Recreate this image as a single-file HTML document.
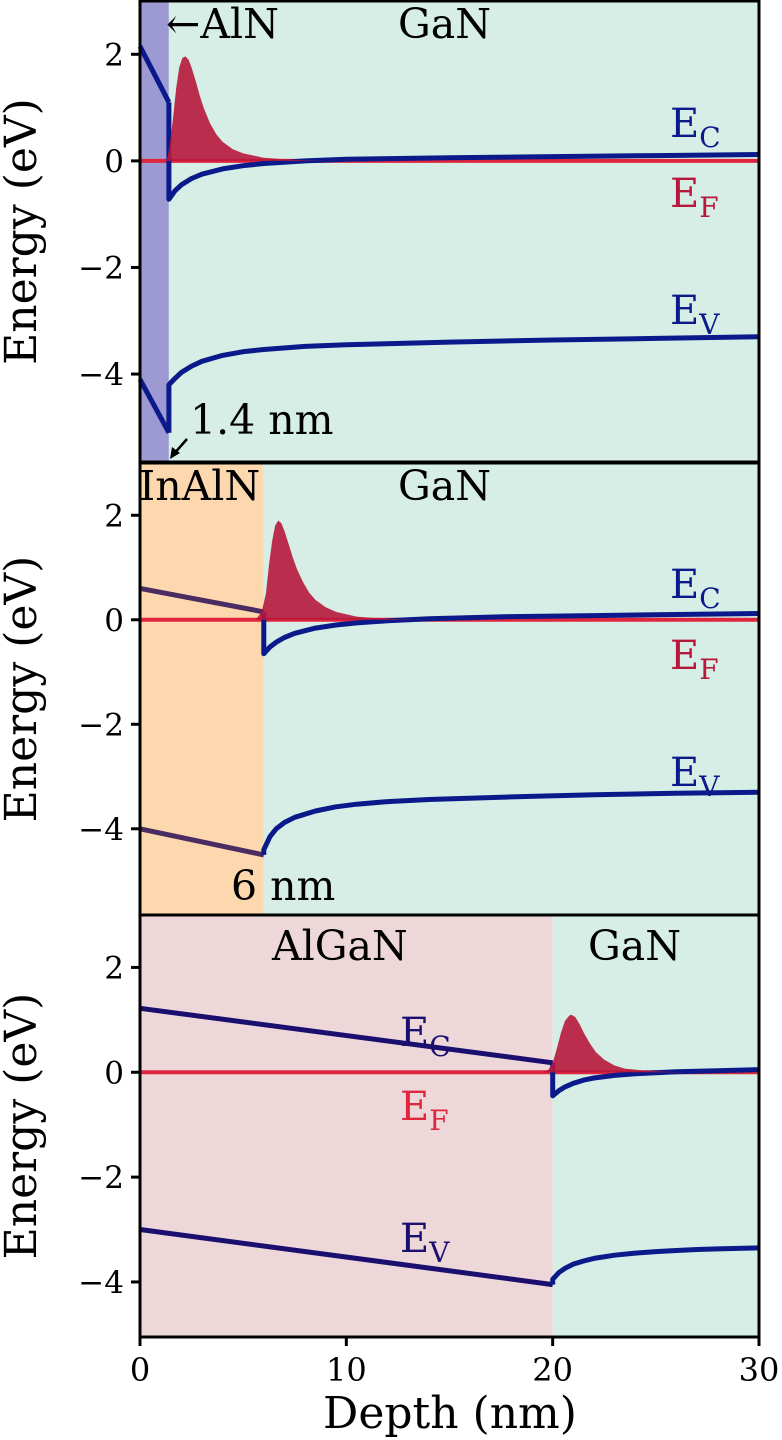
<!DOCTYPE html>
<html><head><meta charset="utf-8"><style>
body{margin:0;background:#fff}
svg{display:block;font-family:"DejaVu Serif","Liberation Serif",serif}
</style></head><body>
<svg id="c" width="782" height="1440" viewBox="0 0 782 1440"></svg>
<script>
// ---- data ----
const xTicks=[0,10,20,30];
const yTicks=[2,0,-2,-4];
const p1Layers=[{name:'AlN',x0:0,x1:1.4,color:'#9d9ad3'},{name:'GaN',x0:1.4,x1:30,color:'#d6eee5'}];
const p1BarrierX=[0,1.4];const p1BarrierEc=[2.15,1.1];const p1BarrierEv=[-4.1,-5.1];
const p1GaNX=[1.4,1.7,2,2.5,3,4,5,6,8,10,15,20,25,30];
const p1GaNEc=[-0.72,-0.56,-0.45,-0.33,-0.25,-0.15,-0.09,-0.05,0,0.03,0.06,0.08,0.1,0.12];
const p1GaNEv=[-4.2,-4.08,-3.97,-3.85,-3.76,-3.65,-3.58,-3.54,-3.48,-3.45,-3.4,-3.36,-3.33,-3.3];
const p1DenX=[1.3,1.45,1.6,1.75,1.9,2.05,2.2,2.35,2.5,2.7,2.9,3.1,3.4,3.7,4,4.5,5,6,7,8,9];
const p1Den=[0,0.3,0.8,1.35,1.75,1.93,1.96,1.9,1.75,1.5,1.22,0.98,0.7,0.5,0.36,0.22,0.14,0.06,0.03,0.01,0];
const p2Layers=[{name:'InAlN',x0:0,x1:6,color:'#fdd8ae'},{name:'GaN',x0:6,x1:30,color:'#d6eee5'}];
const p2BarrierX=[0,6];const p2BarrierEc=[0.6,0.15];const p2BarrierEv=[-4.0,-4.5];
const p2GaNX=[6,6.3,6.6,7,7.5,8.5,9.5,10.5,12,14,18,22,26,30];
const p2GaNEc=[-0.65,-0.52,-0.43,-0.34,-0.26,-0.16,-0.1,-0.06,-0.02,0.02,0.06,0.08,0.1,0.12];
const p2GaNEv=[-4.4,-4.15,-4.0,-3.88,-3.78,-3.66,-3.58,-3.53,-3.48,-3.44,-3.39,-3.35,-3.32,-3.3];
const p2DenX=[5.6,5.9,6.1,6.25,6.4,6.55,6.7,6.85,7.0,7.2,7.4,7.6,7.9,8.2,8.5,9,9.5,10.5,11.5,12.5,13.5];
const p2Den=[0,0.15,0.5,1.05,1.5,1.8,1.9,1.85,1.7,1.45,1.2,0.98,0.72,0.52,0.38,0.24,0.15,0.06,0.03,0.01,0];
const p3Layers=[{name:'AlGaN',x0:0,x1:20,color:'#edd7d9'},{name:'GaN',x0:20,x1:30,color:'#d6eee5'}];
const p3BarrierX=[0,20];const p3BarrierEc=[1.22,0.18];const p3BarrierEv=[-3.0,-4.05];
const p3GaNX=[20,20.3,20.6,21,21.5,22,23,24,25,26,27,28,30];
const p3GaNEc=[-0.45,-0.35,-0.28,-0.21,-0.15,-0.11,-0.06,-0.03,-0.01,0.01,0.02,0.03,0.05];
const p3GaNEv=[-3.95,-3.82,-3.74,-3.66,-3.6,-3.55,-3.49,-3.45,-3.42,-3.4,-3.38,-3.37,-3.35];
const p3DenX=[19.5,19.8,20,20.2,20.4,20.6,20.8,20.9,21.1,21.3,21.5,21.8,22.1,22.5,23,23.5,24.5,25.5,26.5];
const p3Den=[0,0.05,0.18,0.45,0.75,0.98,1.08,1.1,1.05,0.92,0.76,0.55,0.38,0.24,0.13,0.07,0.03,0.01,0];
// ---- layout ----
const NS='http://www.w3.org/2000/svg';
const svg=document.getElementById('c');
const X0=140,X1=759,XMIN=0,XMAX=30,YMIN=-5.65,YMAX=3.0;
const NAVY='#0b1a8a';
const panels=[
 {top:1,bot:462,layers:p1Layers,bx:p1BarrierX,bec:p1BarrierEc,bev:p1BarrierEv,gx:p1GaNX,gec:p1GaNEc,gev:p1GaNEv,dx:p1DenX,dd:p1Den,bcol:NAVY},
 {top:463,bot:915,layers:p2Layers,bx:p2BarrierX,bec:p2BarrierEc,bev:p2BarrierEv,gx:p2GaNX,gec:p2GaNEc,gev:p2GaNEv,dx:p2DenX,dd:p2Den,bcol:'#4a2b62'},
 {top:915,bot:1337,layers:p3Layers,bx:p3BarrierX,bec:p3BarrierEc,bev:p3BarrierEv,gx:p3GaNX,gec:p3GaNEc,gev:p3GaNEv,dx:p3DenX,dd:p3Den,bcol:'#1a0f6e'}
];
panels[2].ymin=-5.05;
function sx(x){return X0+(x-XMIN)/(XMAX-XMIN)*(X1-X0);}
function mk(tag,attrs,parent){const e=document.createElementNS(NS,tag);for(const k in attrs)e.setAttribute(k,attrs[k]);(parent||svg).appendChild(e);return e;}
function txt(s,x,y,size,fill,anchor,parent){const t=mk('text',{x:x,y:y,'font-size':size,fill:fill,'text-anchor':anchor||'start'},parent);t.textContent=s;return t;}
panels.forEach((p,i)=>{
 const ymin=p.ymin||YMIN;
 const sy=v=>p.top+(YMAX-v)/(YMAX-ymin)*(p.bot-p.top);
 const g=mk('g',{});
 
 
 p.layers.forEach(L=>{
  const r=mk('rect',{x:sx(L.x0),y:p.top,width:sx(L.x1)-sx(L.x0),height:p.bot-p.top,fill:L.color},g);
  
  
 });
 const ef=mk('line',{x1:sx(0),x2:sx(30),y1:sy(0),y2:sy(0),stroke:'#e0253f','stroke-width':4},g);
 
 
 const line=(xs,ys,col,name)=>{const d=xs.map((x,k)=>(k?'L':'M')+sx(x).toFixed(1)+','+sy(ys[k]).toFixed(1)).join('');
  const e=mk('path',{d:d,fill:'none',stroke:col,'stroke-width':5,'stroke-linejoin':'round'},g);
  
  };
 const bl=p.bx.length-1;
 line(p.bx,p.bec,p.bcol,'barrier-conduction-band');
 line(p.bx,p.bev,p.bcol,'barrier-valence-band');
 line([p.bx[bl]].concat(p.gx),[p.bec[bl]].concat(p.gec),NAVY,'gan-conduction-band');
 line([p.bx[bl]].concat(p.gx),[p.bev[bl]].concat(p.gev),NAVY,'gan-valence-band');
 let d='M'+sx(p.dx[0]).toFixed(1)+','+sy(0).toFixed(1);
 p.dx.forEach((x,k)=>{d+='L'+sx(x).toFixed(1)+','+sy(p.dd[k]).toFixed(1);});
 d+='L'+sx(p.dx[p.dx.length-1]).toFixed(1)+','+sy(0).toFixed(1)+'Z';
 const den=mk('path',{d:d,fill:'#b8173b','fill-opacity':0.9,'stroke-linejoin':'round'},g);
 
 
 const fr=mk('rect',{x:X0,y:p.top,width:X1-X0,height:p.bot-p.top,fill:'none',stroke:'#000','stroke-width':3},g);
 
 
 yTicks.forEach(v=>{
  mk('line',{x1:X0-9,x2:X0,y1:sy(v),y2:sy(v),stroke:'#000','stroke-width':3},g);
  const t=txt(v<0?'\u2212'+(-v):String(v),X0-16,sy(v)+11,31,'#000','end',g);
  
  
 });
 const yl=txt('Energy (eV)',0,0,44,'#000','middle',g);
 yl.setAttribute('transform','translate(36,'+((p.top+p.bot)/2)+') rotate(-90)');
 
 
 p.sy=sy;p.g=g;
});
const P=panels;
function lab(s,sub,x,y,col,name,g){const t=mk('text',{x:x,y:y,'font-size':40,fill:col},g);t.textContent=s;
 const ts=mk('tspan',{'font-size':28,dy:10},t);ts.textContent=sub;}
let t;
const F=41;
t=txt('GaN',398,38,F,'#000','start',P[0].g);
t=txt('\u2190AlN',166,38,F,'#000','start',P[0].g);
lab('E','C',670,137,'#0b1a8a','ec-label',P[0].g);lab('E','F',670,207,'#b8173b','ef-label',P[0].g);lab('E','V',670,324,'#0b1a8a','ev-label',P[0].g);
t=txt('1.4 nm',190,434,F,'#000','start',P[0].g);
mk('line',{x1:187,y1:439,x2:173,y2:455,stroke:'#000','stroke-width':2.5},P[0].g);
mk('path',{d:'M170,459 L172,447 L180,453Z',fill:'#000'},P[0].g);
t=txt('InAlN',139,500,F,'#000','start',P[1].g);
t=txt('GaN',398,500,F,'#000','start',P[1].g);
lab('E','C',670,598,'#0b1a8a','ec-label',P[1].g);lab('E','F',670,669,'#b8173b','ef-label',P[1].g);lab('E','V',670,786,'#0b1a8a','ev-label',P[1].g);
t=txt('6 nm',231,900,F,'#000','start',P[1].g);
t=txt('AlGaN',272,960,F,'#000','start',P[2].g);
t=txt('GaN',588,960,F,'#000','start',P[2].g);
lab('E','C',400,1046,'#1a0f6e','ec-label',P[2].g);lab('E','F',400,1120,'#e0253f','ef-label',P[2].g);lab('E','V',400,1252,'#1a0f6e','ev-label',P[2].g);
xTicks.forEach(v=>{mk('line',{x1:sx(v),x2:sx(v),y1:1337,y2:1346,stroke:'#000','stroke-width':3});
 const tl=txt(String(v),sx(v),1381,32,'#000','middle');});
t=txt('Depth (nm)',450,1428,44,'#000','middle');
</script>
</body></html>
